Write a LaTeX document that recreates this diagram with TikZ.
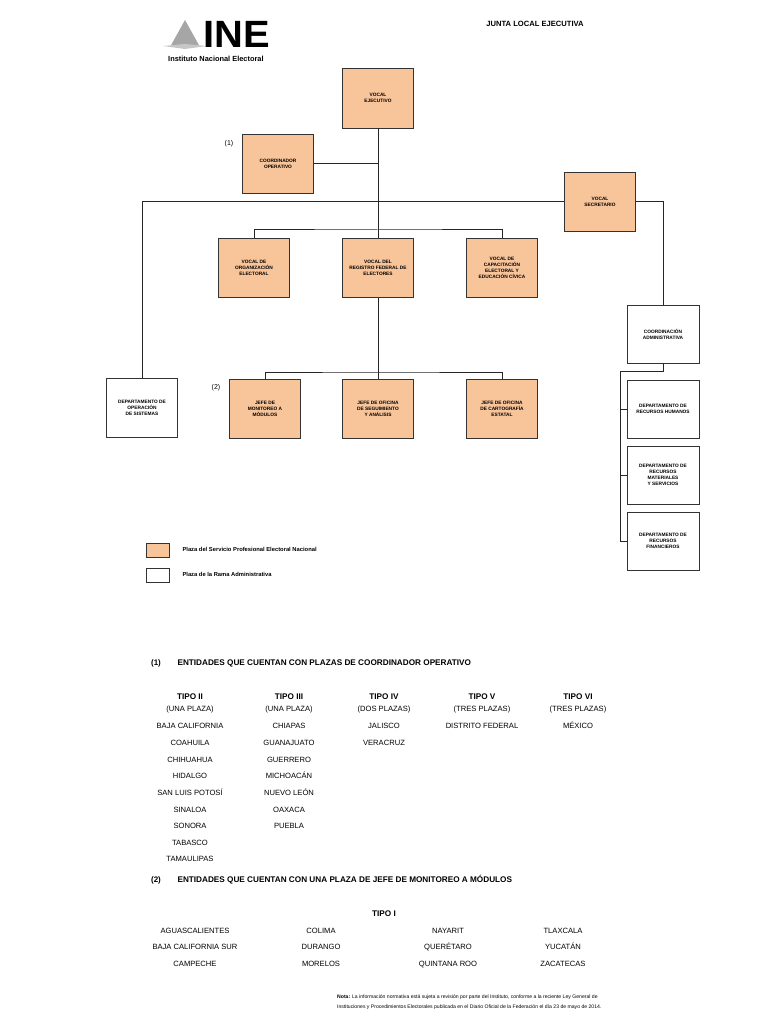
\documentclass[tikz,border=0pt]{standalone}
\usepackage{fontspec}
\setmainfont{Liberation Sans}
\begin{document}
\begin{tikzpicture}[x=1pt,y=-1pt,
  box/.style={draw=black!80,line width=0.9pt,minimum width=71pt,minimum height=59pt,align=center,font=\fontsize{4.8}{5.8}\selectfont\bfseries,inner sep=1pt},
  sp/.style={box,fill=orange1},
  ra/.style={box,fill=white},
  ln/.style={line width=1pt,black!85},
  lst/.style={font=\fontsize{7.6}{9}\selectfont,anchor=center,text height=5.5pt,text depth=0pt,inner sep=0},
  ttl/.style={font=\fontsize{8.2}{9}\selectfont\bfseries,text height=6pt,text depth=0pt,inner sep=0},
  hd/.style={font=\fontsize{8.2}{9}\selectfont\bfseries,anchor=west}]
\definecolor{orange1}{HTML}{F8C49A}
\useasboundingbox (0,0) rectangle (768,1024);
% logo
\fill[gray!70] (170,47) -- (185,20) -- (200,47) -- cycle;
\fill[gray!45] (163,46) -- (185,44) -- (207,46) -- (185,49) -- cycle;
\node[anchor=south west,font=\fontsize{38}{38}\selectfont\bfseries,inner sep=0,text height=27pt,text depth=0pt,xscale=1.05] (ine) at (203,48) {INE};
\node[anchor=north west,font=\fontsize{7.4}{8}\selectfont\bfseries,inner sep=0,text height=5.5pt,text depth=1pt] (inst) at (168,55.5) {Instituto Nacional Electoral};
\node[font=\fontsize{7.6}{9}\selectfont\bfseries] (title) at (535,24) {JUNTA LOCAL EJECUTIVA};
% boxes
\node[sp,minimum height=60pt] (ve) at (378,98) {VOCAL\\EJECUTIVO};
\node[sp] (co) at (278,164) {COORDINADOR\\OPERATIVO};
\node[sp] (vs) at (600,202) {VOCAL\\SECRETARIO};
\node[sp] (voe) at (254,268) {VOCAL DE\\ORGANIZACIÓN\\ELECTORAL};
\node[sp] (vrf) at (378,268) {VOCAL DEL\\REGISTRO FEDERAL DE\\ELECTORES};
\node[sp] (vce) at (502,268) {VOCAL DE\\CAPACITACIÓN\\ELECTORAL Y\\EDUCACIÓN CÍVICA};
\node[ra] (dos) at (142,408) {DEPARTAMENTO DE\\OPERACIÓN\\DE SISTEMAS};
\node[sp] (jm) at (265,409) {JEFE DE\\MONITOREO A\\MÓDULOS};
\node[sp] (js) at (378,409) {JEFE DE OFICINA\\DE SEGUIMIENTO\\Y ANÁLISIS};
\node[sp] (jc) at (502,409) {JEFE DE OFICINA\\DE CARTOGRAFÍA\\ESTATAL};
\node[ra,minimum width=72pt,minimum height=58pt] (ca) at (663,334) {COORDINACIÓN\\ADMINISTRATIVA};
\node[ra,minimum width=72pt,minimum height=58pt] (rh) at (663,409) {DEPARTAMENTO DE\\RECURSOS HUMANOS};
\node[ra,minimum width=72pt,minimum height=58pt] (rm) at (663,475) {DEPARTAMENTO DE\\RECURSOS\\MATERIALES\\Y SERVICIOS};
\node[ra,minimum width=72pt,minimum height=58pt] (rf) at (663,541) {DEPARTAMENTO DE\\RECURSOS\\FINANCIEROS};
\node[font=\fontsize{7}{8}\selectfont] (n1) at (229,144) {(1)};
\node[font=\fontsize{7}{8}\selectfont] (n2) at (216,388) {(2)};
% connectors
\coordinate (b1) at (378,230);
\coordinate (b2) at (378,372);
\coordinate (rv) at (620,371);
\draw[ln] (ve.south) -- (vrf.north);
\draw[ln] (co.east) -- (co.east -| ve.south);
\draw[ln] (dos.north) |- (vs.west);
\draw[ln] (voe.north) |- (b1) -| (vce.north);
\draw[ln] (vs.east) -| (ca.north);
\draw[ln] (vrf.south) -- (js.north);
\draw[ln] (jm.north) |- (b2) -| (jc.north);
\draw[ln] (ca.south) |- (rv) |- (rf.west);
\draw[ln] (rv |- rh.west) -- (rh.west);
\draw[ln] (rv |- rm.west) -- (rm.west);
% legend
\node[draw=black!80,fill=orange1,minimum width=23pt,minimum height=14pt,inner sep=0] (l1) at (157.5,550) {};
\node[draw=black!80,fill=white,minimum width=23pt,minimum height=14pt,inner sep=0] (l2) at (157.5,575) {};
\node[anchor=west,font=\fontsize{5.8}{7}\selectfont\bfseries] (t1) at (179,549) {Plaza del Servicio Profesional Electoral Nacional};
\node[anchor=west,font=\fontsize{5.8}{7}\selectfont\bfseries] (t2) at (179,574) {Plaza de la Rama Administrativa};
% list 1
\node[font=\fontsize{8}{9}\selectfont\bfseries] (p1) at (156,663) {(1)};
\node[hd] (h1) at (174,663) {ENTIDADES QUE CUENTAN CON PLAZAS DE COORDINADOR OPERATIVO};
\foreach \x/\t/\s in {190/TIPO II/UNA PLAZA,289/TIPO III/UNA PLAZA,384/TIPO IV/DOS PLAZAS,482/TIPO V/TRES PLAZAS,578/TIPO VI/TRES PLAZAS}{
  \node[ttl] at (\x,696) {\t};
  \node[lst] at (\x,709) {(\s)};}
\foreach \t [count=\i] in {BAJA CALIFORNIA,COAHUILA,CHIHUAHUA,HIDALGO,SAN LUIS POTOSÍ,SINALOA,SONORA,TABASCO,TAMAULIPAS}
  \node[lst] at (190,{726+16.65*(\i-1)}) {\t};
\foreach \t [count=\i] in {CHIAPAS,GUANAJUATO,GUERRERO,MICHOACÁN,NUEVO LEÓN,OAXACA,PUEBLA}
  \node[lst] at (289,{726+16.65*(\i-1)}) {\t};
\node[lst] at (384,726) {JALISCO};
\node[lst] at (384,743) {VERACRUZ};
\node[lst] at (482,726) {DISTRITO FEDERAL};
\node[lst] at (578,726) {MÉXICO};
% list 2
\node[font=\fontsize{8}{9}\selectfont\bfseries] (p2) at (156,880) {(2)};
\node[hd] (h2) at (174,880) {ENTIDADES QUE CUENTAN CON UNA PLAZA DE JEFE DE MONITOREO A MÓDULOS};
\node[ttl] at (384,913) {TIPO I};
\foreach \x/\a/\b/\c in {195/AGUASCALIENTES/BAJA CALIFORNIA SUR/CAMPECHE,321/COLIMA/DURANGO/MORELOS,448/NAYARIT/QUERÉTARO/QUINTANA ROO,563/TLAXCALA/YUCATÁN/ZACATECAS}{
  \node[lst] at (\x,931) {\a};
  \node[lst] at (\x,947) {\b};
  \node[lst] at (\x,964) {\c};}
\node[anchor=west,align=left,font=\fontsize{5.1}{10}\selectfont,inner sep=0] (nota) at (337,1002) {\textbf{Nota:} La información normativa está sujeta a revisión por parte del Instituto, conforme a la reciente Ley General de\\Instituciones y Procedimientos Electorales publicada en el Diario Oficial de la Federación el día 23 de mayo de 2014.};
\end{tikzpicture}
\end{document}
